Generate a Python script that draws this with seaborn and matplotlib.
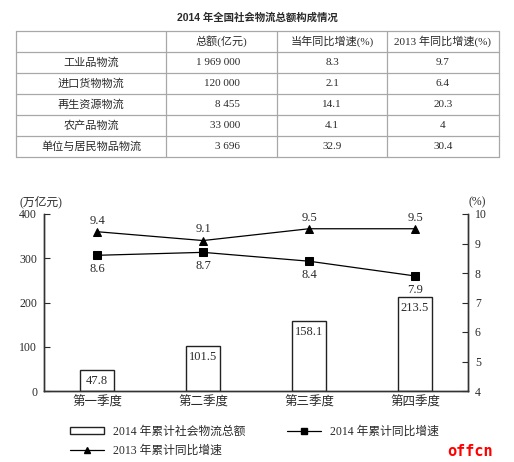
import numpy as np
import matplotlib.pyplot as plt
import seaborn as sns
from matplotlib.patches import Patch
from matplotlib.lines import Line2D

# table data
table_title = "2014 年全国社会物流总额构成情况"
table_header = ["", "总额(亿元)", "当年同比增速(%)", "2013 年同比增速(%)"]
table_rows = ["工业品物流", "进口货物物流", "再生资源物流", "农产品物流", "单位与居民物品物流"]
table_total = ["1 969 000", "120 000", "8 455", "33 000", "3 696"]
table_growth_2014 = ["8.3", "2.1", "14.1", "4.1", "32.9"]
table_growth_2013 = ["9.7", "6.4", "20.3", "4", "30.4"]

# chart data
quarters = ["第一季度", "第二季度", "第三季度", "第四季度"]
total_2014 = [47.8, 101.5, 158.1, 213.5]
growth_2014 = [8.6, 8.7, 8.4, 7.9]
growth_2013 = [9.4, 9.1, 9.5, 9.5]

sns.set_style("ticks")
plt.rcParams['font.family'] = ['Liberation Serif', 'Noto Sans CJK SC']
txt = '#2a2a2a'

W, H = 514, 462
fig = plt.figure(figsize=(W / 100, H / 100), dpi=100)

# ---- table (drawn in pixel coordinates on an overlay axes)
tab = fig.add_axes([0, 0, 1, 1])
tab.set_xlim(0, W)
tab.set_ylim(H, 0)
tab.axis('off')

col_edges = [16, 166, 277, 387, 499]
row_top, row_h = 31, 21
n_rows = len(table_rows) + 1
grid_c = '#a8a8a8'
for x in col_edges:
    tab.plot([x, x], [row_top, row_top + n_rows * row_h], color=grid_c, lw=0.9)
for i in range(n_rows + 1):
    y = row_top + i * row_h
    tab.plot([col_edges[0], col_edges[-1]], [y, y], color=grid_c, lw=0.9)

tab.text(257, 18, table_title, ha='center', va='center', fontsize=7.5,
         family=['Liberation Sans', 'Noto Sans CJK SC'], weight='bold', color=txt)

fs_t = 8
centers = [(col_edges[i] + col_edges[i + 1]) / 2 for i in range(4)]
yc = row_top + row_h / 2
for j, h in enumerate(table_header):
    tab.text(centers[j], yc, h, ha='center', va='center', fontsize=fs_t, color=txt)
for i in range(len(table_rows)):
    y = row_top + (i + 1.5) * row_h
    tab.text(centers[0], y, table_rows[i], ha='center', va='center', fontsize=fs_t, color=txt)
    tab.text(240, y, table_total[i], ha='right', va='center', fontsize=fs_t, color=txt)
    tab.text(centers[2], y, table_growth_2014[i], ha='center', va='center', fontsize=fs_t, color=txt)
    tab.text(centers[3], y, table_growth_2013[i], ha='center', va='center', fontsize=fs_t, color=txt)

# ---- chart
ax = fig.add_axes([44 / W, 71 / H, 424 / W, 177 / H])
sns.barplot(x=quarters, y=total_2014, color='white', saturation=1, edgecolor='#222222',
            linewidth=1.0, width=0.32, ax=ax)
ax.set_xlim(-0.5, 3.5)
ax.set_ylim(0, 400)
ax.set_yticks([0, 100, 200, 300, 400])
ax.tick_params(axis='y', direction='in', length=4, pad=5, labelsize=8.5, colors=txt)
ax.tick_params(axis='x', length=0, pad=4, labelsize=9, colors=txt)
ax.set_xlabel('')
ax.set_ylabel('')
for x, v in enumerate(total_2014):
    ax.annotate(f'{v}', (x, v), xytext=(0, -8), textcoords='offset points',
                ha='center', va='center', fontsize=9, color=txt)

ax2 = ax.twinx()
pos = np.arange(len(quarters))
sns.lineplot(x=pos, y=growth_2013, marker='^', markersize=6, color='black',
             linewidth=0.9, markeredgecolor='black', ax=ax2)
sns.lineplot(x=pos, y=growth_2014, marker='s', markersize=6, color='black',
             linewidth=0.9, markeredgecolor='black', ax=ax2)
ax2.set_ylim(4, 10)
ax2.set_yticks(range(4, 11))
ax2.tick_params(axis='y', direction='in', length=4, pad=5, labelsize=8.5, colors=txt)
ax2.set_ylabel('')
for x, v in zip(pos, growth_2013):
    ax2.annotate(f'{v}', (x, v), xytext=(0, 8), textcoords='offset points',
                 ha='center', va='center', fontsize=9, color=txt)
for x, v in zip(pos, growth_2014):
    ax2.annotate(f'{v}', (x, v), xytext=(0, -10), textcoords='offset points',
                 ha='center', va='center', fontsize=9, color=txt)

for a in (ax, ax2):
    a.spines['top'].set_visible(False)
    for s in ('left', 'right', 'bottom'):
        a.spines[s].set_color('#333333')
        a.spines[s].set_linewidth(1.0)

tab.text(41, 202, '(万亿元)', ha='center', va='center', fontsize=8.5, color=txt)
tab.text(477, 202, '(%)', ha='center', va='center', fontsize=8.5, color=txt)

handles = [
    Patch(facecolor='white', edgecolor='#222222', linewidth=1.0),
    Line2D([], [], color='black', lw=0.9, marker='^', markersize=5),
    Line2D([], [], color='black', lw=0.9, marker='s', markersize=5),
]
labels = ['2014 年累计社会物流总额', '2013 年累计同比增速', '2014 年累计同比增速']
fig.legend(handles, labels, ncol=2, loc='upper left', bbox_to_anchor=(70 / W, 1 - 426 / H),
           frameon=False, fontsize=8.5, handlelength=2.9, handleheight=0.5,
           handletextpad=0.75, columnspacing=3.5, labelspacing=0.6,
           borderpad=0, borderaxespad=0, labelcolor=txt)

fig.text(470 / W, 1 - 451 / H, 'offcn', ha='center', va='center', fontsize=11,
         family='DejaVu Sans Mono', weight='bold', color='red')

fig.savefig('out.png', dpi=100)
